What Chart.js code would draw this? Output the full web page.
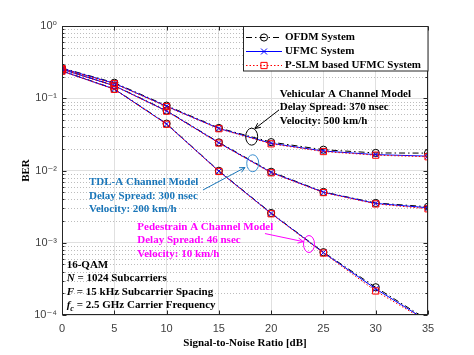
<!DOCTYPE html>
<html><head><meta charset="utf-8">
<script src="https://cdn.jsdelivr.net/npm/chart.js@4.4.1/dist/chart.umd.min.js"></script>
<style>html,body{margin:0;padding:0;background:#fff}#wrap{width:474px;height:355px}</style>
</head><body><div id="wrap"><canvas id="c" width="474" height="355"></canvas></div>
<script>
// ---------- data ----------
const snr = [0, 5, 10, 15, 20, 25, 30, 35];
const vehOFDM = [0.262, 0.164, 0.0790, 0.0388, 0.0247, 0.0194, 0.0175, 0.0174];
const vehUFMC = [0.259, 0.161, 0.0775, 0.0382, 0.0238, 0.0186, 0.0166, 0.0158];
const vehPSLM = [0.257, 0.159, 0.0768, 0.0379, 0.0234, 0.0183, 0.0163, 0.0155];
const tdlOFDM = [0.254, 0.150, 0.0675, 0.0245, 0.0096, 0.00505, 0.00355, 0.00315];
const tdlUFMC = [0.252, 0.149, 0.0668, 0.0242, 0.0094, 0.00500, 0.00350, 0.00305];
const tdlPSLM = [0.250, 0.148, 0.0663, 0.0240, 0.0093, 0.00495, 0.00345, 0.00295];
const pedOFDM = [0.240, 0.135, 0.0445, 0.0099, 0.00258, 0.00074, 0.000242, 0.000085];
const pedUFMC = [0.238, 0.134, 0.0440, 0.0098, 0.00255, 0.00073, 0.000230, 0.000082];
const pedPSLM = [0.237, 0.133, 0.0437, 0.0097, 0.00252, 0.00072, 0.000215, 0.000080];
const xTicks = [0, 5, 10, 15, 20, 25, 30, 35];
const yTickLabels = ['10\u207B\u2074', '10\u207B\u00B3', '10\u207B\u00B2', '10\u207B\u00B9', '10\u2070'];
const legendLabels = ['OFDM System', 'UFMC System', 'P-SLM based UFMC System'];
const vehText = ['Vehicular A Channel Model', 'Delay Spread: 370 nsec', 'Velocity: 500 km/h'];
const tdlText = ['TDL-A Channel Model', 'Delay Spread: 300 nsec', 'Velocity: 200 km/h'];
const pedText = ['Pedestrain A Channel Model', 'Delay Spread: 46 nsec', 'Velocity: 10 km/h'];

// ---------- styles ----------
const SERIF = '"Liberation Serif", "Times New Roman", serif';
const SANS = '"Liberation Sans", Arial, "DejaVu Sans", sans-serif';
const sysStyle = {
  ofdm: {color: '#000000', dash: [6, 3, 1.5, 3], style: 'circle', radius: 3.6},
  ufmc: {color: '#0000ff', dash: [], style: 'crossRot', radius: 4.2},
  pslm: {color: '#ff0000', dash: [1.5, 2], style: 'rect', radius: 4.4}
};
const tdlColor = '#1a76b9';
const pedColor = '#ff00ff';

function mk(vals) { return snr.map((x, i) => ({x: x, y: vals[i]})); }
function ds(label, vals, s) {
  return {label: label, data: mk(vals), borderColor: s.color, borderWidth: 1, borderDash: s.dash,
    pointStyle: s.style, pointRadius: s.radius, pointHoverRadius: s.radius,
    pointBorderColor: s.color, pointBackgroundColor: 'rgba(0,0,0,0)', pointBorderWidth: 1,
    fill: false, tension: 0};
}
// first dataset is drawn on top
const datasets = [
  ds('P-SLM Veh', vehPSLM, sysStyle.pslm), ds('P-SLM TDL', tdlPSLM, sysStyle.pslm), ds('P-SLM Ped', pedPSLM, sysStyle.pslm),
  ds('UFMC Veh', vehUFMC, sysStyle.ufmc), ds('UFMC TDL', tdlUFMC, sysStyle.ufmc), ds('UFMC Ped', pedUFMC, sysStyle.ufmc),
  ds('OFDM Veh', vehOFDM, sysStyle.ofdm), ds('OFDM TDL', tdlOFDM, sysStyle.ofdm), ds('OFDM Ped', pedOFDM, sysStyle.ofdm)
];

function isDecade(v) { const e = Math.log10(v); return Math.abs(e - Math.round(e)) < 1e-9; }

function drawMarker(ctx, s, x, y) {
  ctx.save();
  ctx.strokeStyle = s.color; ctx.lineWidth = 1; ctx.setLineDash([]);
  ctx.beginPath();
  if (s.style === 'circle') { ctx.arc(x, y, s.radius, 0, Math.PI * 2); }
  else if (s.style === 'rect') { const h = s.radius * Math.SQRT1_2; ctx.rect(x - h, y - h, 2 * h, 2 * h); }
  else { const h = s.radius * Math.SQRT1_2; ctx.moveTo(x - h, y - h); ctx.lineTo(x + h, y + h); ctx.moveTo(x - h, y + h); ctx.lineTo(x + h, y - h); }
  ctx.stroke();
  ctx.restore();
}
function richText(ctx, parts, x, y, color) {
  let cx = x;
  ctx.fillStyle = color; ctx.textBaseline = 'middle'; ctx.textAlign = 'left';
  for (const p of parts) {
    const size = p.sub ? 8 : 11;
    ctx.font = (p.italic ? 'italic ' : '') + 'bold ' + size + 'px ' + SERIF;
    ctx.fillText(p.t, cx, y + (p.sub ? 3.5 : 0));
    cx += ctx.measureText(p.t).width;
  }
}
function arrow(ctx, x1, y1, x2, y2, color) {
  ctx.save();
  ctx.strokeStyle = color; ctx.lineWidth = 1; ctx.setLineDash([]);
  ctx.beginPath(); ctx.moveTo(x1, y1); ctx.lineTo(x2, y2); ctx.stroke();
  const ang = Math.atan2(y2 - y1, x2 - x1), L = 6, sp = 0.45;
  ctx.beginPath();
  ctx.moveTo(x2 - L * Math.cos(ang - sp), y2 - L * Math.sin(ang - sp));
  ctx.lineTo(x2, y2);
  ctx.lineTo(x2 - L * Math.cos(ang + sp), y2 - L * Math.sin(ang + sp));
  ctx.stroke();
  ctx.restore();
}
function ellipse(ctx, x, y, rx, ry, color) {
  ctx.save(); ctx.strokeStyle = color; ctx.lineWidth = 1; ctx.setLineDash([]);
  ctx.beginPath(); ctx.ellipse(x, y, rx, ry, 0, 0, Math.PI * 2); ctx.stroke(); ctx.restore();
}

const deco = {
  id: 'deco',
  beforeDatasetsDraw(chart) {
    const {ctx, chartArea: a, scales: {y}} = chart;
    ctx.save();
    ctx.strokeStyle = '#bdbdbd'; ctx.lineWidth = 1; ctx.setLineDash([1, 2]);
    y.ticks.forEach(t => {
      if (isDecade(t.value)) return;
      const py = Math.round(y.getPixelForValue(t.value)) + 0.5;
      ctx.beginPath(); ctx.moveTo(a.left, py); ctx.lineTo(a.right, py); ctx.stroke();
    });
    ctx.restore();
  },
  afterDraw(chart) {
    const {ctx, chartArea: a, scales: {x, y}} = chart;
    ctx.save();
    // axes box + inward ticks
    ctx.strokeStyle = '#262626'; ctx.lineWidth = 1; ctx.setLineDash([]);
    const L = Math.round(a.left) + 0.5, R = Math.round(a.right) - 0.5, T = Math.round(a.top) + 0.5, B = Math.round(a.bottom) - 0.5;
    ctx.strokeRect(L, T, R - L, B - T);
    ctx.beginPath();
    xTicks.forEach(v => {
      const px = Math.round(x.getPixelForValue(v)) + 0.5;
      ctx.moveTo(px, B); ctx.lineTo(px, B - 4); ctx.moveTo(px, T); ctx.lineTo(px, T + 4);
    });
    y.ticks.forEach(t => {
      const py = Math.round(y.getPixelForValue(t.value)) + 0.5;
      const len = isDecade(t.value) ? 4 : 2;
      ctx.moveTo(L, py); ctx.lineTo(L + len, py); ctx.moveTo(R, py); ctx.lineTo(R - len, py);
    });
    ctx.stroke();

    // legend
    const lx = 243, ly = 26.5, lw = 185, lh = 44.5;
    ctx.fillStyle = '#ffffff'; ctx.fillRect(lx, ly, lw, lh);
    ctx.strokeStyle = '#262626'; ctx.strokeRect(lx + 0.5, ly, lw - 0.5, lh);
    const rows = [37, 51, 65];
    const keys = ['ofdm', 'ufmc', 'pslm'];
    keys.forEach((k, i) => {
      const s = sysStyle[k];
      ctx.save(); ctx.strokeStyle = s.color; ctx.lineWidth = 1; ctx.setLineDash(s.dash);
      ctx.beginPath(); ctx.moveTo(246, rows[i] + 0.5); ctx.lineTo(282, rows[i] + 0.5); ctx.stroke(); ctx.restore();
      drawMarker(ctx, s, 264, rows[i] + 0.5);
      richText(ctx, [{t: legendLabels[i]}], 285, rows[i] + 0.5, '#000');
    });

    // annotations (anchored in data coordinates)
    const X = v => x.getPixelForValue(v), Y = v => y.getPixelForValue(v);
    const LH = 13.5;
    vehText.forEach((t, i) => richText(ctx, [{t: t}], X(20.82), Y(0.1146) + i * LH, '#000'));
    tdlText.forEach((t, i) => richText(ctx, [{t: t}], X(2.58), Y(0.00687) + i * LH, tdlColor));
    pedText.forEach((t, i) => richText(ctx, [{t: t}], X(7.2), Y(0.001667) + i * LH, pedColor));
    const bx = X(0.45), by = Y(0.000492);
    richText(ctx, [{t: '16-QAM'}], bx, by, '#000');
    richText(ctx, [{t: 'N', italic: true}, {t: ' = 1024 Subcarriers'}], bx, by + LH, '#000');
    richText(ctx, [{t: 'F', italic: true}, {t: ' = 15 kHz Subcarrier Spacing'}], bx, by + 2 * LH, '#000');
    richText(ctx, [{t: 'f', italic: true}, {t: 'c', italic: true, sub: true}, {t: ' = 2.5 GHz Carrier Frequency'}], bx, by + 3 * LH, '#000');

    ellipse(ctx, X(18.14), Y(0.0294), 6, 8.5, '#000');
    arrow(ctx, X(20.75), Y(0.0688), X(18.46), Y(0.0381), '#000');
    ellipse(ctx, X(18.24), Y(0.0126), 6, 8.5, '#3a8fd0');
    arrow(ctx, X(13.48), Y(0.00537), X(17.5), Y(0.0110), tdlColor);
    ellipse(ctx, X(23.62), Y(0.00096), 5.5, 8.5, pedColor);
    arrow(ctx, X(19.41), Y(0.00134), X(23.08), Y(0.001035), pedColor);
    ctx.restore();
  }
};

new Chart(document.getElementById('c'), {
  type: 'line',
  data: {datasets: datasets},
  plugins: [deco],
  options: {
    responsive: false, animation: false, devicePixelRatio: 1,
    layout: {padding: {top: 26, right: 46, left: 0, bottom: 0}},
    plugins: {legend: {display: false}, tooltip: {enabled: false}},
    scales: {
      x: {
        type: 'linear', min: 0, max: 35,
        afterBuildTicks(s) { s.ticks = xTicks.map(v => ({value: v})); },
        ticks: {color: '#404040', font: {family: SANS, size: 11}, padding: 7, maxRotation: 0, autoSkip: false},
        grid: {color: '#e0e0e0', drawTicks: false, lineWidth: 1},
        border: {display: false},
        title: {display: true, text: 'Signal-to-Noise Ratio [dB]', color: '#000',
          font: {family: SERIF, size: 11, weight: 'bold'}, padding: {top: 0, bottom: 5}},
        afterFit(s) { s.height = 40; }
      },
      y: {
        type: 'logarithmic', min: 1e-4, max: 1,
        afterBuildTicks(s) {
          const t = [];
          for (let e = -4; e <= 0; e++) {
            for (let k = 1; k <= 9; k++) {
              if (e === 0 && k > 1) break;
              t.push({value: k * Math.pow(10, e)});
            }
          }
          s.ticks = t;
        },
        ticks: {
          color: '#404040', font: {family: SANS, size: 11}, padding: 5, autoSkip: false,
          callback(v) { if (!isDecade(v)) return ''; return yTickLabels[Math.round(Math.log10(v)) + 4]; }
        },
        grid: {color: ctx => (ctx.tick && isDecade(ctx.tick.value)) ? '#e0e0e0' : 'rgba(0,0,0,0)', drawTicks: false},
        border: {display: false},
        title: {display: true, text: 'BER', color: '#000',
          font: {family: SERIF, size: 11, weight: 'bold'}, padding: {top: 20, bottom: 0}},
        afterFit(s) { s.width = 62; }
      }
    }
  }
});
</script></body></html>
